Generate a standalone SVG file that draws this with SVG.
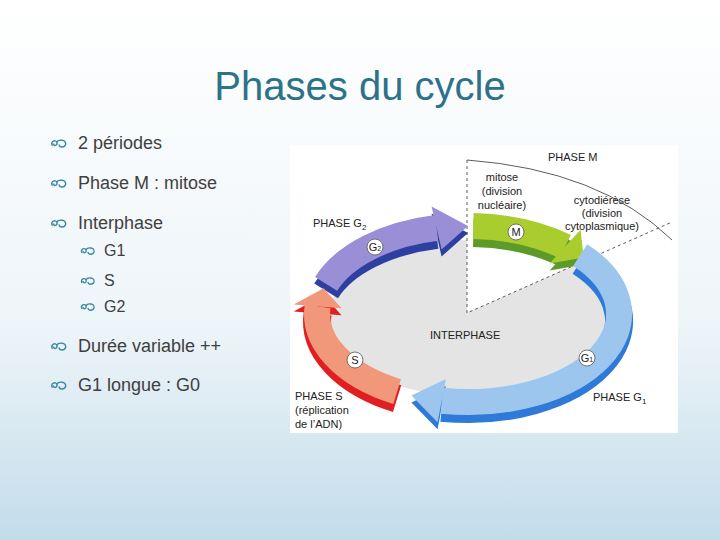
<svg xmlns="http://www.w3.org/2000/svg" width="720" height="540" viewBox="0 0 720 540">
<defs>
<linearGradient id="bg" x1="0" y1="0" x2="0" y2="1">
<stop offset="0" stop-color="#ffffff"/><stop offset="0.6" stop-color="#eef5f9"/><stop offset="1" stop-color="#c3dcea"/>
</linearGradient>
<symbol id="bul" viewBox="0 0 16 10"><path d="M2 7 C0 3 5 1 6 4 C7 7 3 8 3 5 M6 4 C7 1 15 1 14 6 C13 9 8 9 8 6" fill="none" stroke="#3a8aa0" stroke-width="1.3"/></symbol>
<style>
.t{font-family:"Liberation Sans",Arial,sans-serif;fill:#404040}
.b{font-size:18px}.s{font-size:16px}
.d{font-family:"Liberation Sans",Arial,sans-serif;font-size:11px;fill:#222}
.c{fill:#fff;stroke:#555;stroke-width:0.8}
</style>
</defs>
<rect width="720" height="540" fill="url(#bg)"/>
<text x="360" y="100" text-anchor="middle" font-family="Liberation Sans,Arial,sans-serif" font-size="40" fill="#2c7389">Phases du cycle</text>
<g id="bullets">
<use href="#bul" x="50" y="138" width="18" height="11"/><text class="t b" x="78" y="149">2 périodes</text>
<use href="#bul" x="50" y="178" width="18" height="11"/><text class="t b" x="78" y="189">Phase M : mitose</text>
<use href="#bul" x="50" y="218" width="18" height="11"/><text class="t b" x="78" y="229">Interphase</text>
<use href="#bul" x="80" y="246" width="16" height="10"/><text class="t s" x="104" y="256">G1</text>
<use href="#bul" x="80" y="276" width="16" height="10"/><text class="t s" x="104" y="286">S</text>
<use href="#bul" x="80" y="302" width="16" height="10"/><text class="t s" x="104" y="312">G2</text>
<use href="#bul" x="50" y="341" width="18" height="11"/><text class="t b" x="78" y="352">Durée variable ++</text>
<use href="#bul" x="50" y="380" width="18" height="11"/><text class="t b" x="78" y="391">G1 longue : G0</text>
</g>
<g id="diagram">
<rect x="290" y="145" width="388" height="288" fill="#fff"/>
<ellipse cx="468" cy="318" rx="140" ry="78" fill="#e4e4e4"/>
<path d="M467 313 L467 160 L672 222 Z" fill="#fff"/>
<path d="M467 160 Q600 170 672 240" fill="none" stroke="#333" stroke-width="0.8"/>
<path d="M467 160 L467 313 L672 222" fill="none" stroke="#333" stroke-width="0.8" stroke-dasharray="3,3"/>
<g id="connectors">
<g id="M"><path d="M473.3 233.1 A151 88 0 0 1 565.1 253.6" fill="none" stroke="#5e9a2a" stroke-width="28"/><polygon points="580.5,236.7 583.7,264.4 549.7,270.4" fill="#5e9a2a"/>
<path d="M473.3 226.1 A151 88 0 0 1 565.1 246.6" fill="none" stroke="#a9cc2e" stroke-width="26"/><polygon points="580.5,229.7 583.7,257.4 549.7,263.4" fill="#a9cc2e"/></g>
<g id="G2"><path d="M326.1 290.9 A151 88 0 0 1 436.6 234.9" fill="none" stroke="#2d3fa0" stroke-width="28"/><polygon points="431.6,213.4 468,233 441.6,256.5" fill="#2d3fa0"/>
<path d="M326.1 283.9 A151 88 0 0 1 436.6 227.9" fill="none" stroke="#9a8ed6" stroke-width="26"/><polygon points="431.6,206.4 468,226 441.6,249.5" fill="#9a8ed6"/></g>
<g id="S"><path d="M397.1 398.7 A151 88 0 0 1 317.6 313.3" fill="none" stroke="#e02020" stroke-width="28"/><polygon points="293.7,311.4 323.6,295.3 341.5,315.2" fill="#e02020"/>
<path d="M397.1 391.7 A151 88 0 0 1 317.6 306.3" fill="none" stroke="#f2987a" stroke-width="26"/><polygon points="293.7,304.4 323.6,288.3 341.5,308.2" fill="#f2987a"/></g>
<g id="G1"><path d="M580.2 262.1 A151 88 0 0 1 441.8 407.7" fill="none" stroke="#2f7ad8" stroke-width="28"/><polygon points="437.6,429.3 411.4,402.6 445.9,386" fill="#2f7ad8"/>
<path d="M580.2 255.1 A151 88 0 0 1 441.8 400.7" fill="none" stroke="#9cc6ee" stroke-width="26"/><polygon points="437.6,422.3 411.4,395.6 445.9,379" fill="#9cc6ee"/></g>
</g>
<g id="badges">
<circle class="c" cx="516" cy="232" r="8"/><text class="d" x="516" y="236" text-anchor="middle">M</text>
<circle class="c" cx="375" cy="247" r="8"/><text class="d" x="375" y="251" text-anchor="middle">G<tspan font-size="7">2</tspan></text>
<circle class="c" cx="355" cy="360" r="8"/><text class="d" x="355" y="364" text-anchor="middle">S</text>
<circle class="c" cx="587" cy="358" r="8"/><text class="d" x="587" y="362" text-anchor="middle">G<tspan font-size="7">1</tspan></text>
</g>
<g id="labels">
<text class="d" x="548" y="161">PHASE M</text>
<text class="d" x="502" y="181" text-anchor="middle">mitose</text>
<text class="d" x="502" y="195" text-anchor="middle">(division</text>
<text class="d" x="502" y="209" text-anchor="middle">nucléaire)</text>
<text class="d" x="602" y="204" text-anchor="middle">cytodiérèse</text>
<text class="d" x="602" y="217" text-anchor="middle">(division</text>
<text class="d" x="602" y="230" text-anchor="middle">cytoplasmique)</text>
<text class="d" x="313" y="227">PHASE G<tspan font-size="8" dy="3">2</tspan></text>
<text class="d" x="430" y="339">INTERPHASE</text>
<text class="d" x="295" y="400">PHASE S</text>
<text class="d" x="295" y="414">(réplication</text>
<text class="d" x="295" y="428">de l’ADN)</text>
<text class="d" x="593" y="401">PHASE G<tspan font-size="8" dy="3">1</tspan></text>
</g>
</g>
</svg>
